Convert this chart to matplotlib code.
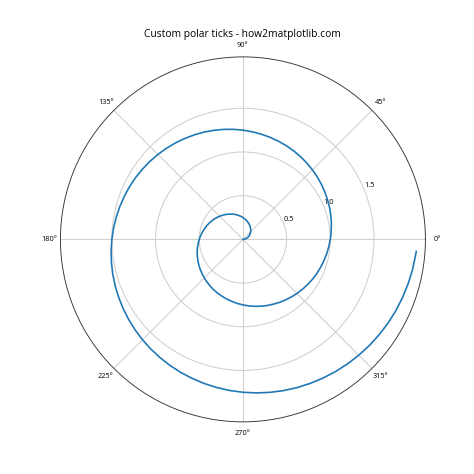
import numpy as np
import matplotlib.pyplot as plt

plt.rcParams['font.family'] = ['Open Sans', 'DejaVu Sans']

# spiral: angle (deg) and radius
spiral_theta_deg = [
    0, 5, 10, 15, 20, 25, 30, 35, 40, 45, 50, 55, 60, 65, 70, 75, 80, 85,
    90, 95, 100, 105, 110, 115, 120, 125, 130, 135, 140, 145, 150, 155, 160, 165, 170, 175,
    180, 185, 190, 195, 200, 205, 210, 215, 220, 225, 230, 235, 240, 245, 250, 255, 260, 265,
    270, 275, 280, 285, 290, 295, 300, 305, 310, 315, 320, 325, 330, 335, 340, 345, 350, 355,
    360, 365, 370, 375, 380, 385, 390, 395, 400, 405, 410, 415, 420, 425, 430, 435, 440, 445,
    450, 455, 460, 465, 470, 475, 480, 485, 490, 495, 500, 505, 510, 515, 520, 525, 530, 535,
    540, 545, 550, 555, 560, 565, 570, 575, 580, 585, 590, 595, 600, 605, 610, 615, 620, 625,
    630, 635, 640, 645, 650, 655, 660, 665, 670, 675, 680, 685, 690, 695, 700, 705, 710, 716,
]
spiral_r = [
    0.000, 0.014, 0.028, 0.042, 0.056, 0.069, 0.083, 0.097, 0.111, 0.125, 0.139, 0.153,
    0.167, 0.181, 0.194, 0.208, 0.222, 0.236, 0.250, 0.264, 0.278, 0.292, 0.306, 0.319,
    0.333, 0.347, 0.361, 0.375, 0.389, 0.403, 0.417, 0.431, 0.444, 0.458, 0.472, 0.486,
    0.500, 0.514, 0.528, 0.542, 0.556, 0.569, 0.583, 0.597, 0.611, 0.625, 0.639, 0.653,
    0.667, 0.681, 0.694, 0.708, 0.722, 0.736, 0.750, 0.764, 0.778, 0.792, 0.806, 0.819,
    0.833, 0.847, 0.861, 0.875, 0.889, 0.903, 0.917, 0.931, 0.944, 0.958, 0.972, 0.986,
    1.000, 1.014, 1.028, 1.042, 1.056, 1.069, 1.083, 1.097, 1.111, 1.125, 1.139, 1.153,
    1.167, 1.181, 1.194, 1.208, 1.222, 1.236, 1.250, 1.264, 1.278, 1.292, 1.306, 1.319,
    1.333, 1.347, 1.361, 1.375, 1.389, 1.403, 1.417, 1.431, 1.444, 1.458, 1.472, 1.486,
    1.500, 1.514, 1.528, 1.542, 1.556, 1.569, 1.583, 1.597, 1.611, 1.625, 1.639, 1.653,
    1.667, 1.681, 1.694, 1.708, 1.722, 1.736, 1.750, 1.764, 1.778, 1.792, 1.806, 1.819,
    1.833, 1.847, 1.861, 1.875, 1.889, 1.903, 1.917, 1.931, 1.944, 1.958, 1.972, 1.989,
]
r_ticks = [0.5, 1.0, 1.5]

fig = plt.figure(figsize=(8, 8), dpi=59.25)
ax = fig.add_subplot(111, projection='polar')
ax.plot(np.deg2rad(spiral_theta_deg), spiral_r, color='#1f77b4', lw=2)
ax.set_rticks(r_ticks)
ax.tick_params(labelsize=9)
ax.grid(color='#d0d0d0', lw=1.3)
ax.spines['polar'].set_linewidth(1.1)
ax.spines['polar'].set_color('#333333')
ax.set_title('Custom polar ticks - how2matplotlib.com', fontsize=12.5)

plt.savefig('out.png')
